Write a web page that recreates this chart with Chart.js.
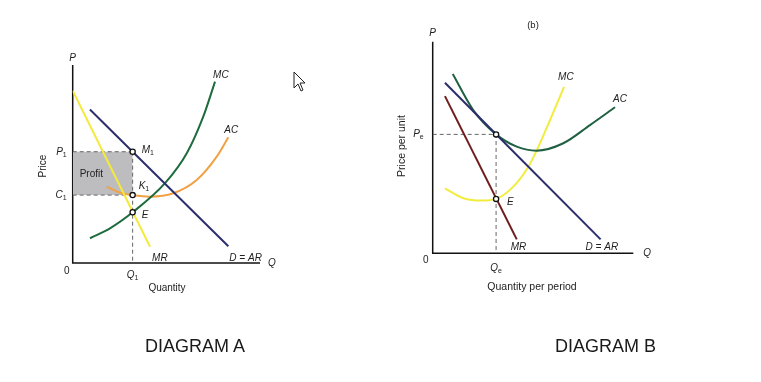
<!DOCTYPE html>
<html>
<head>
<meta charset="utf-8">
<script src="https://cdn.jsdelivr.net/npm/chart.js@4.4.0/dist/chart.umd.min.js"></script>
<style>
  body { margin: 0; background: #fff; }
  #wrap { position: relative; width: 761px; height: 382px; overflow: hidden; font-family: "Liberation Sans", Arial, sans-serif; }
  canvas { position: absolute; left: 0; top: 0; }
  .cap { position: absolute; font-size: 18px; line-height: 18px; color: #1a1a1a; }
</style>
</head>
<body>
<div id="wrap">
  <canvas id="chartA" width="761" height="382"></canvas>
  <canvas id="chartB" width="761" height="382"></canvas>
  <div class="cap" style="left:145px; top:337px;">DIAGRAM A</div>
  <div class="cap" style="left:555px; top:337px;">DIAGRAM B</div>
  <svg style="position:absolute; left:293px; top:71px;" width="14" height="22" viewBox="0 0 14 22">
    <path d="M1 1 L1 17 L5 13 L8 20 L10 19 L7 12 L12 12 Z" fill="#fff" stroke="#222" stroke-width="1"/>
  </svg>
</div>
<script>
// ---- Diagram A : monopoly profit (units 0..10 on both axes)
var qA = 3.2;            // Q1
var p1 = 5.62;           // P1
var c1 = 3.43;           // C1
var eA = 2.56;           // MR = MC

var mrA = [{x: 0, y: 8.70}, {x: 4.13, y: 0.82}];
var demandA = [{x: 0.92, y: 7.75}, {x: 8.31, y: 0.85}];
var mcA = [
  {x: 0.92, y: 1.25}, {x: 1.99, y: 1.75}, {x: 3.2, y: 2.56}, {x: 4.93, y: 4.03},
  {x: 6.09, y: 5.54}, {x: 6.97, y: 7.39}, {x: 7.60, y: 9.16}
];
var acA = [
  {x: 1.82, y: 3.85}, {x: 2.53, y: 3.55}, {x: 3.2, y: 3.43}, {x: 4.13, y: 3.35},
  {x: 5.37, y: 3.52}, {x: 6.62, y: 4.19}, {x: 7.69, y: 5.37}, {x: 8.31, y: 6.35}
];

// ---- Diagram B : long-run monopolistic competition
var qB = 3.16;           // Qe
var pB = 5.62;           // Pe
var eB = 2.57;

var mrB = [{x: 0.61, y: 7.43}, {x: 4.19, y: 0.66}];
var demandB = [{x: 0.61, y: 8.06}, {x: 8.37, y: 0.66}];
var acB = [
  {x: 1.0, y: 8.47}, {x: 2.02, y: 6.77}, {x: 3.16, y: 5.62}, {x: 4.19, y: 5.04},
  {x: 5.18, y: 4.85}, {x: 6.51, y: 5.20}, {x: 7.84, y: 6.06}, {x: 9.09, y: 6.90}
];
var mcB = [
  {x: 0.61, y: 3.07}, {x: 1.53, y: 2.60}, {x: 2.44, y: 2.49}, {x: 3.16, y: 2.57},
  {x: 4.02, y: 3.15}, {x: 4.77, y: 4.09}, {x: 5.18, y: 4.85}, {x: 5.85, y: 6.30},
  {x: 6.55, y: 7.87}
];

var FONT = '"Liberation Sans", Arial, sans-serif';

function curve(data, color, order) {
  return {
    data: data, borderColor: color, borderWidth: 2, pointRadius: 0,
    cubicInterpolationMode: 'monotone', fill: false, order: order
  };
}
function dashed(data) {
  return {
    data: data, borderColor: '#666', borderWidth: 1, borderDash: [4, 3],
    pointRadius: 0, tension: 0, fill: false, order: 5
  };
}
function dots(data) {
  return {
    data: data, showLine: false, pointRadius: 2.6, pointBorderWidth: 1.3,
    pointBackgroundColor: '#fff', pointBorderColor: '#111', order: 0
  };
}

// label: [text, sub, x, y, dx, dy, italic, align]
function labelPlugin(labels, extra) {
  return {
    id: 'labels',
    beforeDatasetsDraw: function (chart) {
      var ctx = chart.ctx, xs = chart.scales.x, ys = chart.scales.y;
      ctx.save();
      ctx.strokeStyle = '#111';
      ctx.lineWidth = 1.5;
      ctx.beginPath();
      ctx.moveTo(xs.getPixelForValue(0), ys.getPixelForValue(10));
      ctx.lineTo(xs.getPixelForValue(0), ys.getPixelForValue(0));
      ctx.lineTo(xs.getPixelForValue(10), ys.getPixelForValue(0));
      ctx.stroke();
      ctx.restore();
    },
    afterDraw: function (chart) {
      var ctx = chart.ctx, xs = chart.scales.x, ys = chart.scales.y;
      ctx.save();
      ctx.fillStyle = '#222';
      ctx.textBaseline = 'middle';
      labels.forEach(function (l) {
        var px = xs.getPixelForValue(l[2]) + l[4];
        var py = ys.getPixelForValue(l[3]) + l[5];
        var f1 = (l[6] ? 'italic ' : '') + '10px ' + FONT;
        var f2 = '7px ' + FONT;
        ctx.font = f1;
        var w1 = ctx.measureText(l[0]).width;
        ctx.font = f2;
        var w2 = l[1] ? ctx.measureText(l[1]).width : 0;
        var tw = w1 + w2;
        var x0 = l[7] === 'center' ? px - tw / 2 : (l[7] === 'right' ? px - tw : px);
        ctx.textAlign = 'left';
        ctx.font = f1;
        ctx.fillText(l[0], x0, py);
        if (l[1]) {
          ctx.font = f2;
          ctx.fillText(l[1], x0 + w1, py + 3);
        }
      });
      extra.forEach(function (t) {
        ctx.save();
        ctx.font = t[4] + 'px ' + FONT;
        ctx.textAlign = 'center';
        ctx.translate(t[1], t[2]);
        ctx.rotate(t[3]);
        ctx.fillText(t[0], 0, 0);
        ctx.restore();
      });
      ctx.restore();
    }
  };
}

function baseOptions(pad) {
  return {
    responsive: false,
    animation: false,
    layout: { padding: pad },
    plugins: { legend: { display: false }, tooltip: { enabled: false } },
    scales: {
      x: { type: 'linear', min: 0, max: 10, display: false },
      y: { type: 'linear', min: 0, max: 10, display: false }
    }
  };
}

var labelsA = [
  ['P', '', 0, 10, 0, -7, true, 'center'],
  ['Q', '', 10, 0, 8, 0, true, 'left'],
  ['0', '', 0, 0, -6, 8, false, 'center'],
  ['P', '1', 0, p1, -6, 0, true, 'right'],
  ['C', '1', 0, c1, -6, 0, true, 'right'],
  ['Q', '1', qA, 0, 0, 12, true, 'center'],
  ['M', '1', qA, p1, 9, -2, true, 'left'],
  ['K', '1', qA, c1, 6, -9, true, 'left'],
  ['E', '', qA, eA, 9, 3, true, 'left'],
  ['MC', '', 7.60, 9.16, -2, -6, true, 'left'],
  ['AC', '', 8.31, 6.35, -4, -7, true, 'left'],
  ['MR', '', 4.13, 0.82, 2, 11, true, 'left'],
  ['D = AR', '', 8.31, 0.85, 1, 12, true, 'left'],
  ['Profit', '', 0, (p1 + c1) / 2, 7, 1, false, 'left']
];
var extraA = [
  ['Quantity', 167, 288, 0, 10],
  ['Price', 43, 166, -Math.PI / 2, 10]
];

var labelsB = [
  ['P', '', 0, 10, 0, -8, true, 'center'],
  ['Q', '', 10, 0, 10, 0, true, 'left'],
  ['0', '', 0, 0, -7, 7, false, 'center'],
  ['P', 'e', 0, pB, -9, 0, true, 'right'],
  ['Q', 'e', qB, 0, 0, 15, true, 'center'],
  ['E', '', qB, eB, 11, 3, true, 'left'],
  ['MC', '', 6.55, 7.87, -6, -10, true, 'left'],
  ['AC', '', 9.09, 6.90, -2, -8, true, 'left'],
  ['MR', '', 4.19, 0.66, -6, 8, true, 'left'],
  ['D = AR', '', 8.37, 0.66, -15, 8, true, 'left']
];
var extraB = [
  ['Quantity per period', 532, 287, 0, 10.5],
  ['(b)', 533, 25, 0, 9.5],
  ['Price per unit', 402, 146, -Math.PI / 2, 10.5]
];

new Chart(document.getElementById('chartA'), {
  type: 'line',
  data: {
    datasets: [
      dots([{x: qA, y: p1}, {x: qA, y: c1}, {x: qA, y: eA}]),
      curve(mrA, '#f4ea3c', 1),
      curve(demandA, '#2c2f6c', 2),
      curve(mcA, '#1e6b3e', 3),
      curve(acA, '#f0a244', 4),
      dashed([{x: 0, y: c1}, {x: qA, y: c1}]),
      dashed([{x: qA, y: p1}, {x: qA, y: 0}]),
      {
        data: [{x: 0, y: p1}, {x: qA, y: p1}], borderColor: '#666', borderWidth: 1,
        borderDash: [4, 3], pointRadius: 0, fill: {value: c1},
        backgroundColor: '#bdbdc0', order: 9
      }
    ]
  },
  options: baseOptions({left: 72.7, top: 65, right: 501, bottom: 119}),
  plugins: [labelPlugin(labelsA, extraA)]
});

new Chart(document.getElementById('chartB'), {
  type: 'line',
  data: {
    datasets: [
      dots([{x: qB, y: pB}, {x: qB, y: eB}]),
      curve(mrB, '#6e1c1c', 1),
      curve(demandB, '#2c2e6a', 2),
      curve(acB, '#1f6142', 3),
      curve(mcB, '#f2ec3e', 4),
      dashed([{x: 0, y: pB}, {x: qB, y: pB}, {x: qB, y: 0}])
    ]
  },
  options: baseOptions({left: 432.7, top: 41.7, right: 127.7, bottom: 128.7}),
  plugins: [labelPlugin(labelsB, extraB)]
});
</script>
</body>
</html>
